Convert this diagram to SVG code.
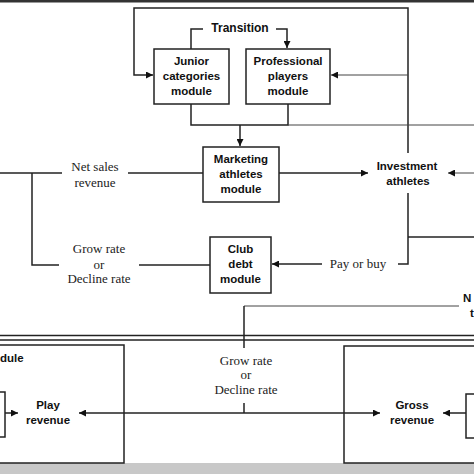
<svg xmlns="http://www.w3.org/2000/svg" width="474" height="474" viewBox="0 0 474 474">
<defs>
<style>
.box{fill:#fff;stroke:#222;stroke-width:1.5}
.frame{fill:none;stroke:#222;stroke-width:1.5}
.ln{fill:none;stroke:#222;stroke-width:1.5}
.thin{fill:none;stroke:#444;stroke-width:1}
.b{font-family:"Liberation Sans",Arial,sans-serif;font-weight:bold;font-size:11.5px;fill:#111;text-anchor:middle}
.s{font-family:"Liberation Serif","Times New Roman",serif;font-size:13px;fill:#222;text-anchor:middle}
</style>
<marker id="ar" viewBox="0 0 10 10" refX="10" refY="5" markerWidth="7" markerHeight="7" markerUnits="userSpaceOnUse" orient="auto">
<path d="M0,0 L10,5 L0,10 z" fill="#111"/>
</marker>
</defs>
<rect x="0" y="0" width="474" height="474" fill="#fff"/>
<rect x="0" y="0" width="474" height="2.5" fill="#333"/>
<rect x="0" y="463" width="474" height="11" fill="#c8c8c8"/>

<g id="connectors">
<path class="ln" d="M408,153 V8 H134 V75 H153" marker-end="url(#ar)"/>
<path class="thin" d="M408,75 H331" marker-end="url(#ar)"/>
<path class="ln" d="M191,49 V29 H203"/>
<path class="ln" d="M276,29 H287 V48" marker-end="url(#ar)"/>
<path class="ln" d="M191,104 V125 H288 V104"/>
<path class="thin" d="M288,125 H474"/>
<path class="ln" d="M240,125 V146" marker-end="url(#ar)"/>
<path class="ln" d="M279,173 H368" marker-end="url(#ar)"/>
<path class="thin" d="M474,173 H448" marker-end="url(#ar)"/>
<path class="ln" d="M408,193 V264 H398"/>
<path class="ln" d="M408,237 H474"/>
<path class="ln" d="M322,264 H272" marker-end="url(#ar)"/>
<path class="ln" d="M203,173 H128"/>
<path class="ln" d="M0,173 H62"/>
<path class="ln" d="M32,173 V265 H59"/>
<path class="ln" d="M139,265 H210"/>
<path class="thin" d="M244,306 H459"/>
<path class="ln" d="M244,306 V348"/>
<path class="ln" d="M244,403 V413"/>
<path class="ln" d="M0,335.5 H474"/>
<path class="ln" d="M0,340 H474"/>
<path class="ln" d="M244,413 H79" marker-end="url(#ar)"/>
<path class="ln" d="M244,413 H380" marker-end="url(#ar)"/>
<path class="ln" d="M5,413 H18" marker-end="url(#ar)"/>
<path class="ln" d="M466,413 H443" marker-end="url(#ar)"/>
</g>

<g id="junior">
<rect class="box" x="154" y="49" width="75" height="55"/>
<text class="b" x="191.5" y="65">Junior</text>
<text class="b" x="191.5" y="80">categories</text>
<text class="b" x="191.5" y="95">module</text>
</g>
<g id="professional">
<rect class="box" x="246" y="49" width="84" height="55"/>
<text class="b" x="288" y="65">Professional</text>
<text class="b" x="288" y="80">players</text>
<text class="b" x="288" y="95">module</text>
</g>
<g id="transition">
<text class="b" x="240" y="32" style="font-size:12px">Transition</text>
</g>
<g id="marketing">
<rect class="box" x="203" y="147" width="76" height="55"/>
<text class="b" x="241" y="163">Marketing</text>
<text class="b" x="241" y="178">athletes</text>
<text class="b" x="241" y="193">module</text>
</g>
<g id="club">
<rect class="box" x="210" y="237" width="61" height="56"/>
<text class="b" x="240.5" y="253">Club</text>
<text class="b" x="240.5" y="268">debt</text>
<text class="b" x="240.5" y="283">module</text>
</g>
<g id="investment">
<text class="b" x="407" y="170">Investment</text>
<text class="b" x="408" y="185">athletes</text>
</g>
<g id="netsales">
<text class="s" x="95" y="171">Net sales</text>
<text class="s" x="95" y="187">revenue</text>
</g>
<g id="growleft">
<text class="s" x="99" y="253">Grow rate</text>
<text class="s" x="99" y="269">or</text>
<text class="s" x="99" y="283">Decline rate</text>
</g>
<g id="payorbuy">
<text class="s" x="358" y="268">Pay or buy</text>
</g>
<g id="nt">
<text class="b" x="463" y="302" style="text-anchor:start">N</text>
<text class="b" x="470" y="317" style="text-anchor:start">t</text>
</g>
<g id="growbottom">
<text class="s" x="246" y="365">Grow rate</text>
<text class="s" x="246" y="379">or</text>
<text class="s" x="246" y="394">Decline rate</text>
</g>
<g id="leftmodule">
<rect class="frame" x="-10" y="345" width="134" height="118"/>
<text class="b" x="0" y="362" style="text-anchor:start">dule</text>
<rect class="frame" x="-10" y="392" width="15" height="45"/>
<text class="b" x="48" y="409">Play</text>
<text class="b" x="48" y="424">revenue</text>
</g>
<g id="rightmodule">
<rect class="frame" x="344" y="346" width="140" height="117"/>
<rect class="frame" x="466" y="394" width="20" height="44"/>
<text class="b" x="412" y="409">Gross</text>
<text class="b" x="412" y="424">revenue</text>
</g>
</svg>
